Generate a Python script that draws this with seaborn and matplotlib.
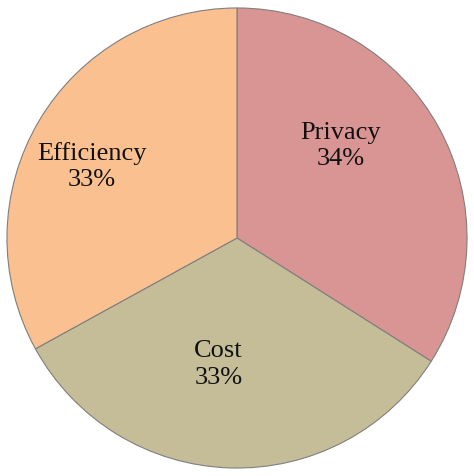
import matplotlib
matplotlib.use("Agg")
import matplotlib.pyplot as plt
import seaborn as sns

sns.set_theme(style="white")
plt.rcParams['font.family'] = ['Liberation Serif', 'DejaVu Serif']

categories = ["Privacy", "Cost", "Efficiency"]
values = [34, 33, 33]
colors = ["#D99594", "#C4BD97", "#FAC090"]
label_pos = [(0.45, 0.40), (-0.08, -0.55), (-0.63, 0.31)]

fig = plt.figure(figsize=(4.74, 4.76), dpi=100)
ax = fig.add_axes([0.005, 0.005, 0.99, 0.99])
wedges, texts = ax.pie(values, colors=colors, startangle=90, counterclock=False,
                       wedgeprops=dict(edgecolor="#7f7f7f", linewidth=0.8))
for (x, y), c, v in zip(label_pos, categories, values):
    ax.text(x, y, f"{c}\n{v}%", ha="center", va="center",
            fontsize=19, color="#111111", linespacing=1.25)
ax.set_aspect("equal")
ax.set_xlim(-1.02, 1.02)
ax.set_ylim(-1.02, 1.02)
fig.savefig("out.png", dpi=100, facecolor="white")
